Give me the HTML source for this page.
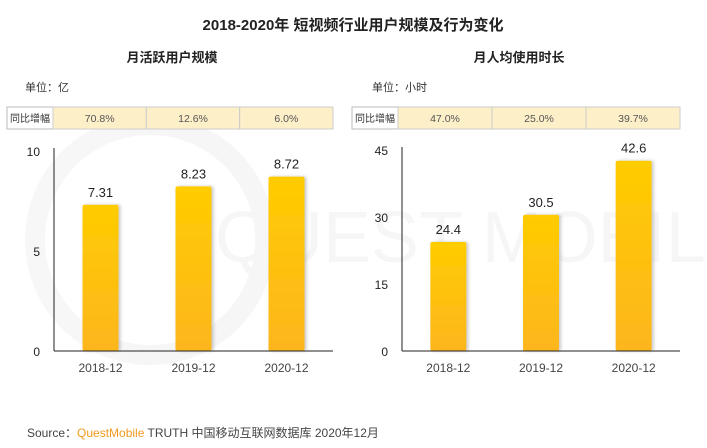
<!DOCTYPE html>
<html><head><meta charset="utf-8"><style>
body{margin:0;width:707px;height:448px;background:#fff;font-family:"Liberation Sans","Noto Sans CJK SC",sans-serif;overflow:hidden;position:relative}
</style></head><body>
<svg width="707" height="448" style="position:absolute;left:0;top:0">
<defs>
<linearGradient id="g" x1="0" y1="0" x2="0" y2="1"><stop offset="0" stop-color="#FFCC00"/><stop offset="1" stop-color="#FDB61E"/></linearGradient>
<filter id="s" x="-20%" y="-5%" width="150%" height="110%"><feDropShadow dx="2" dy="0" stdDeviation="1.5" flood-color="#888" flood-opacity="0.45"/></filter>
</defs>
<g opacity="0.03">
<circle cx="150" cy="240" r="115" fill="none" stroke="#000" stroke-width="20"/>
<text x="215" y="262" font-size="72" font-family="Liberation Sans" fill="#000">QUEST MOBILE</text>
</g>
<text x="353" y="30" text-anchor="middle" font-size="15" font-weight="bold" fill="#222">2018-2020年 短视频行业用户规模及行为变化</text>
<g id="left"></g><g id="right"></g>
<text x="27" y="437" font-size="12" fill="#444">Source：<tspan fill="#F29A1E">QuestMobile</tspan> TRUTH 中国移动互联网数据库 2020年12月</text>
</svg>
<script>
const categories=["2018-12","2019-12","2020-12"];
const mauValues=[7.31,8.23,8.72];
const mauGrowth=["70.8%","12.6%","6.0%"];
const mauTicks=[0,5,10];
const timeValues=[24.4,30.5,42.6];
const timeGrowth=["47.0%","25.0%","39.7%"];
const timeTicks=[0,15,30,45];
const NS="http://www.w3.org/2000/svg";
function mk(p,tag,a,txt){const e=document.createElementNS(NS,tag);for(const k in a)e.setAttribute(k,a[k]);if(txt!==undefined)e.textContent=txt;p.appendChild(e);return e;}
function panel(id,cfg){
 const g=document.getElementById(id);
 const x0=cfg.x0,x1=cfg.x1,yb=351,yt=cfg.yt,max=cfg.max;
 const y=v=>yb-(v/max)*(yb-yt);
 const band=(x1-x0)/categories.length;
 const bx=i=>x0+band*(i+0.5);
 let e=mk(g,'text',{x:cfg.cx,y:62,'text-anchor':'middle','font-size':13,'font-weight':'bold',fill:'#222'},cfg.title);
 
 
 e=mk(g,'text',{x:cfg.ux,y:91,'font-size':11,fill:'#333'},cfg.unit);
 
 
 const tl=cfg.tx,tw=46,ty=107,th=22;
 e=mk(g,'rect',{x:tl,y:ty,width:tw,height:th,fill:'#fff',stroke:'#bbb'});
 
 
 mk(g,'text',{x:tl+tw/2,y:ty+15,'text-anchor':'middle','font-size':10,fill:'#333'},'同比增幅');
 const cw=(x1-(tl+tw))/3;
 cfg.growth.forEach((s,i)=>{
  const r=mk(g,'rect',{x:tl+tw+i*cw,y:ty,width:cw,height:th,fill:'#FDEFC8',stroke:'#ccc'});
  
  
  mk(g,'text',{x:tl+tw+(i+0.5)*cw,y:ty+15,'text-anchor':'middle','font-size':10.5,fill:'#555'},s);
 });
 cfg.ticks.forEach(t=>{
  const tt=mk(g,'text',{x:x0-14,y:y(t)+5,'text-anchor':'end','font-size':12,fill:'#222'},t);
  
  
 });
 cfg.values.forEach((v,i)=>{
  const r=mk(g,'rect',{x:bx(i)-18,y:y(v),width:36,height:yb-y(v),rx:2,fill:'url(#g)',filter:'url(#s)'});
  
  
  const l=mk(g,'text',{x:bx(i),y:y(v)-8,'text-anchor':'middle','font-size':13,fill:'#222'},v.toFixed(cfg.dec));
  
  
  const c=mk(g,'text',{x:bx(i),y:372,'text-anchor':'middle','font-size':12,fill:'#444'},categories[i]);
  
  
 });
 e=mk(g,'line',{x1:x0,y1:yt-3,x2:x0,y2:yb,stroke:'#222','stroke-width':1});
 
 
 e=mk(g,'line',{x1:x0,y1:yb,x2:x1,y2:yb,stroke:'#222','stroke-width':1});
 
 
}
panel('left',{x0:54,x1:333,yt:151,max:10,title:'月活跃用户规模',cx:172,unit:'单位：亿',ux:25,tx:7,growth:mauGrowth,ticks:mauTicks,values:mauValues,dec:2});
panel('right',{x0:402,x1:680,yt:150,max:45,title:'月人均使用时长',cx:519,unit:'单位：小时',ux:372,tx:352,growth:timeGrowth,ticks:timeTicks,values:timeValues,dec:1});
</script>
</body></html>
